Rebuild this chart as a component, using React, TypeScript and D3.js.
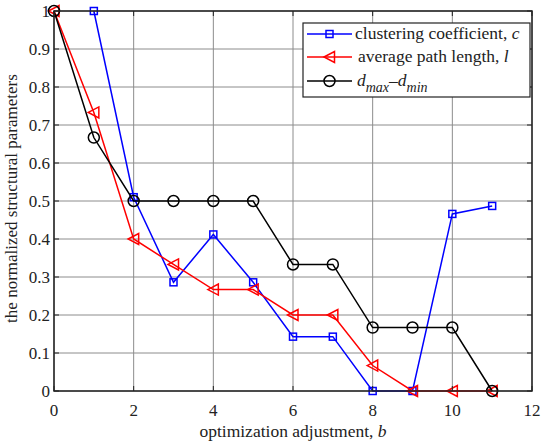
import * as d3 from 'd3';

const WIDTH = 550;
const HEIGHT = 447;
const MARGIN = { top: 11, right: 18, bottom: 56, left: 54 };

const FONT = "'Liberation Serif'";

// values
const xC = [1, 2, 3, 4, 5, 6, 7, 8, 9, 10, 11];
const clustering = [1, 0.51, 0.286, 0.412, 0.286, 0.143, 0.143, 0, 0, 0.466, 0.487];

const xL = [0, 1, 2, 3, 4, 5, 6, 7, 8, 9, 10, 11];
const pathLength = [1, 0.733, 0.4, 0.333, 0.267, 0.267, 0.2, 0.2, 0.067, 0, 0, 0];

const xD = [0, 1, 2, 3, 4, 5, 6, 7, 8, 9, 10, 11];
const degreeDiff = [1, 0.667, 0.5, 0.5, 0.5, 0.5, 0.333, 0.333, 0.167, 0.167, 0.167, 0];

const xTicks = [0, 2, 4, 6, 8, 10, 12];
const yTicks = [0, 0.1, 0.2, 0.3, 0.4, 0.5, 0.6, 0.7, 0.8, 0.9, 1];

type Marker = 'square' | 'triangle' | 'circle';

const Mark = ({ x, y, kind, color }: { x: number; y: number; kind: Marker; color: string }) => {
  if (kind === 'square') {
    return <rect x={x - 3.5} y={y - 3.5} width={7} height={7} fill="none" stroke={color} strokeWidth={1.5} />;
  }
  if (kind === 'circle') {
    return <circle cx={x} cy={y} r={5.5} fill="none" stroke={color} strokeWidth={1.5} />;
  }
  // left pointing triangle
  const pts = [[x - 5.5, y], [x + 5, y - 5.5], [x + 5, y + 5.5]];
  return <polygon points={pts.map((p) => p.join(',')).join(' ')} fill="none" stroke={color} strokeWidth={1.5} />;
};

export default function App() {
  const boundsWidth = WIDTH - MARGIN.left - MARGIN.right;
  const boundsHeight = HEIGHT - MARGIN.top - MARGIN.bottom;

  const xScale = d3.scaleLinear().domain([0, 12]).range([0, boundsWidth]);
  const yScale = d3.scaleLinear().domain([0, 1]).range([boundsHeight, 0]);

  const line = d3
    .line<[number, number]>()
    .x((d) => xScale(d[0]))
    .y((d) => yScale(d[1]));

  const series = [
    { key: 'c', xs: xC, ys: clustering, color: '#0000ff', marker: 'square' as Marker },
    { key: 'l', xs: xL, ys: pathLength, color: '#ff0000', marker: 'triangle' as Marker },
    { key: 'd', xs: xD, ys: degreeDiff, color: '#000000', marker: 'circle' as Marker },
  ];

  const legendX = 303 - MARGIN.left;
  const legendY = 23 - MARGIN.top;
  const legendW = 227;
  const legendH = 74;
  const rowY = [11, 34, 58];

  const tick = { fontFamily: FONT, fontSize: 17, fill: '#222' };
  const leg = { fontFamily: FONT, fontSize: 17.5, fill: '#222' };

  return (
    <div style={{ position: 'fixed', left: 0, top: 0 }}>
      <svg width={WIDTH} height={HEIGHT} style={{ display: 'block', background: '#fff' }}>
        <g transform={`translate(${MARGIN.left},${MARGIN.top})`}>
          {/* grid */}
          {xTicks.map((t) => (
            <line key={'gx' + t} x1={xScale(t)} x2={xScale(t)} y1={0} y2={boundsHeight} stroke="#8c8c8c" strokeWidth={1} />
          ))}
          {yTicks.map((t) => (
            <line key={'gy' + t} x1={0} x2={boundsWidth} y1={yScale(t)} y2={yScale(t)} stroke="#8c8c8c" strokeWidth={1} />
          ))}

          {/* data */}
          {series.map((s) => {
            const pts = s.xs.map((x, i) => [x, s.ys[i]] as [number, number]);
            return (
              <g key={s.key}>
                <path d={line(pts) || ''} fill="none" stroke={s.color} strokeWidth={1.5} />
                {pts.map((p, i) => (
                  <Mark key={i} x={xScale(p[0])} y={yScale(p[1])} kind={s.marker} color={s.color} />
                ))}
              </g>
            );
          })}

          {/* frame and ticks */}
          <rect x={0} y={0} width={boundsWidth} height={boundsHeight} fill="none" stroke="#222" strokeWidth={1.5} />
          {xTicks.map((t) => (
            <g key={'tx' + t}>
              <line x1={xScale(t)} x2={xScale(t)} y1={boundsHeight} y2={boundsHeight - 5} stroke="#222" />
              <line x1={xScale(t)} x2={xScale(t)} y1={0} y2={5} stroke="#222" />
              <text x={xScale(t)} y={boundsHeight + 25} textAnchor="middle" style={tick}>
                {t}
              </text>
            </g>
          ))}
          {yTicks.map((t) => (
            <g key={'ty' + t}>
              <line x1={0} x2={5} y1={yScale(t)} y2={yScale(t)} stroke="#222" />
              <line x1={boundsWidth} x2={boundsWidth - 5} y1={yScale(t)} y2={yScale(t)} stroke="#222" />
              <text x={-4} y={yScale(t) + 5.5} textAnchor="end" style={tick}>
                {d3.format('~g')(t)}
              </text>
            </g>
          ))}

          {/* legend */}
          <g transform={`translate(${legendX},${legendY})`}>
            <rect width={legendW} height={legendH} fill="#fff" stroke="#222" strokeWidth={1.2} />
            {series.map((s, i) => (
              <g key={'lg' + s.key} transform={`translate(0,${rowY[i]})`}>
                <line x1={4} x2={49} y1={0} y2={0} stroke={s.color} strokeWidth={1.5} />
                <Mark x={26.5} y={0} kind={s.marker} color={s.color} />
              </g>
            ))}
            <text x={52} y={rowY[0] + 5} style={leg}>
              clustering coefficient, <tspan fontStyle="italic">c</tspan>
            </text>
            <text x={55} y={rowY[1] + 5} style={leg}>
              average path length, <tspan fontStyle="italic">l</tspan>
            </text>
            <text x={54} y={rowY[2] + 5} style={{ ...leg, fontStyle: 'italic' }}>
              d<tspan fontSize={14} dy={6}>max</tspan>
              <tspan dy={-6}>–d</tspan>
              <tspan fontSize={14} dy={6}>min</tspan>
            </text>
          </g>

          {/* axis labels */}
          <text x={boundsWidth / 2} y={boundsHeight + 46} textAnchor="middle" style={leg}>
            optimization adjustment, <tspan fontStyle="italic">b</tspan>
          </text>
          <text
            transform={`translate(${-37},${(72 + 325) / 2 - MARGIN.top}) rotate(-90)`}
            textAnchor="middle"
            style={{ ...leg, fontSize: 17 }}
          >
            the normalized structural parameters
          </text>
        </g>
      </svg>
    </div>
  );
}
